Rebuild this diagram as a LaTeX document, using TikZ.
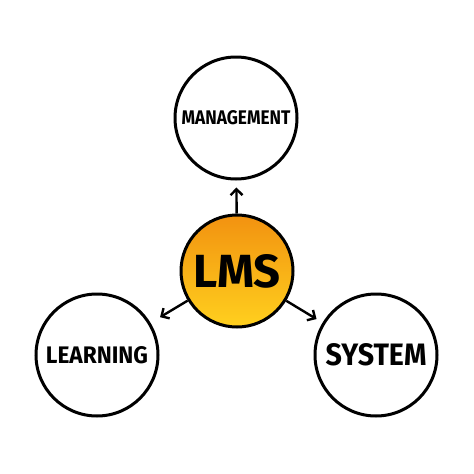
\documentclass[tikz,border=0pt]{standalone}
\usepackage{fontspec}
\setmainfont{Fira Sans}
\usetikzlibrary{arrows.meta}
\pgfdeclarelayer{bg}
\pgfsetlayers{bg,main}
\def\gprgb#1#2#3{rgb,255:red,#1;green,#2;blue,#3}
\newcommand\capbox[3]{\resizebox{#1pt}{#2pt}{\bfseries #3}}

\begin{document}
\begin{tikzpicture}[x=1pt,y=-1pt]

% Fix the frame...
\useasboundingbox (0,0) rectangle (474,474);

% Draw the nodes...
\node (lms) at (237,271) [shape=circle,top color=\gprgb{242}{146}{16},bottom color=\gprgb{255}{208}{30},inner sep=0pt,minimum size=112pt,line width=3pt,draw] {\capbox{87}{33}{LMS}};
\node (mgmt) at (236,118) [shape=circle,fill=white,inner sep=0pt,minimum size=122pt,line width=3pt,draw] {\capbox{109}{14}{MANAGEMENT}};
\node (learn) at (97,355) [shape=circle,fill=white,inner sep=0pt,minimum size=122pt,line width=3pt,draw] {\capbox{102}{17}{LEARNING}};
\node (sys) at (376,355) [shape=circle,fill=white,inner sep=0pt,minimum size=122pt,line width=3pt,draw] {\capbox{101}{22}{SYSTEM}};


% Draw the edges...
\begin{pgfonlayer}{bg}
\draw (lms) edge[-{Straight Barb[length=6pt,width=12pt]},line width=2.4pt,shorten >=7pt] (mgmt);
\draw (lms) edge[-{Straight Barb[length=6pt,width=12pt]},line width=2.4pt,shorten >=11pt] (learn);
\draw (lms) edge[-{Straight Barb[length=6pt,width=12pt]},line width=2.4pt,shorten >=7pt] (sys);

\end{pgfonlayer}

\end{tikzpicture}
\end{document}
